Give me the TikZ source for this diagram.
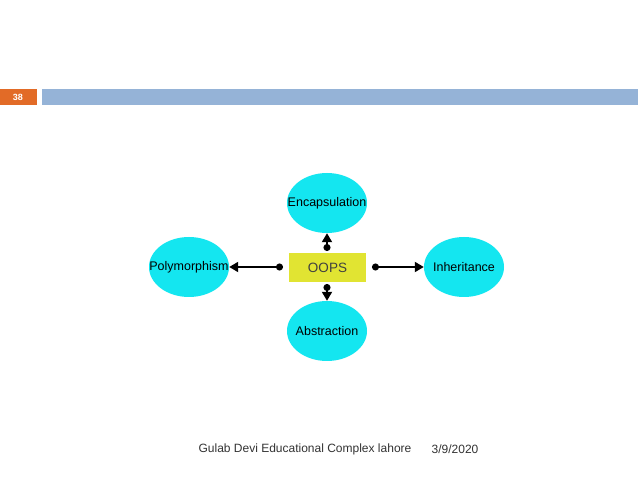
\documentclass[tikz,border=0pt]{standalone}
\usepackage{fontspec}
\setmainfont{Liberation Sans}
\usetikzlibrary{shapes.geometric,arrows.meta}
\definecolor{cyanfill}{RGB}{20,230,240}
\definecolor{oopsyellow}{RGB}{225,228,50}
\definecolor{barblue}{RGB}{149,179,215}
\definecolor{barorange}{RGB}{226,107,39}
\tikzset{
  bubble/.style={ellipse,fill=cyanfill,minimum width=80pt,minimum height=60pt,inner sep=0pt},
  btext/.style={font=\fontsize{12.5}{14}\selectfont,inner sep=0pt},
  link/.style={line width=1.8pt,{Circle[length=7pt]}-{Triangle[length=9pt,width=10pt]}}
}
\begin{document}
\begin{tikzpicture}[x=1pt,y=-1pt]
\useasboundingbox[fill=white] (0,0) rectangle (638,478);
\fill[barorange] (0,89) rectangle (37,105);
\node[text=white,font=\bfseries\fontsize{9}{10}\selectfont] (num) at (18,97) {38};
\fill[barblue] (42,89) rectangle (638,105);
\node[bubble] (enc) at (327,203) {};
\node[bubble] (poly) at (189,267) {};
\node[bubble] (inh) at (464,267) {};
\node[bubble] (abs) at (327,331) {};
\node[btext] (tenc) at (enc.center) {Encapsulation};
\node[btext] (tpoly) at (poly.center) {Polymorphism};
\node[btext] (tinh) at (inh.center) {Inheritance};
\node[btext] (tabs) at (abs.center) {Abstraction};
\node[fill=oopsyellow,minimum width=77pt,minimum height=29pt,inner sep=0pt,text=black!75,font=\fontsize{13.5}{15}\selectfont] (oops) at (327.5,267.5) {OOPS};
\coordinate (dl) at (283,267); \coordinate (dr) at (372,267);
\coordinate (du) at (327,251); \coordinate (dd) at (327,284);
\draw[link] (dl) -- (poly.east);
\draw[link] (dr) -- (inh.west);
\draw[link] (du) -- (enc.south);
\draw[link] (dd) -- (abs.north);
\node[font=\fontsize{12}{14}\selectfont,text=black!80] (foot) at (305,449) {Gulab Devi Educational Complex lahore};
\node[font=\fontsize{12}{14}\selectfont,text=black!80] (date) at (455,449) {3/9/2020};
\end{tikzpicture}
\end{document}
